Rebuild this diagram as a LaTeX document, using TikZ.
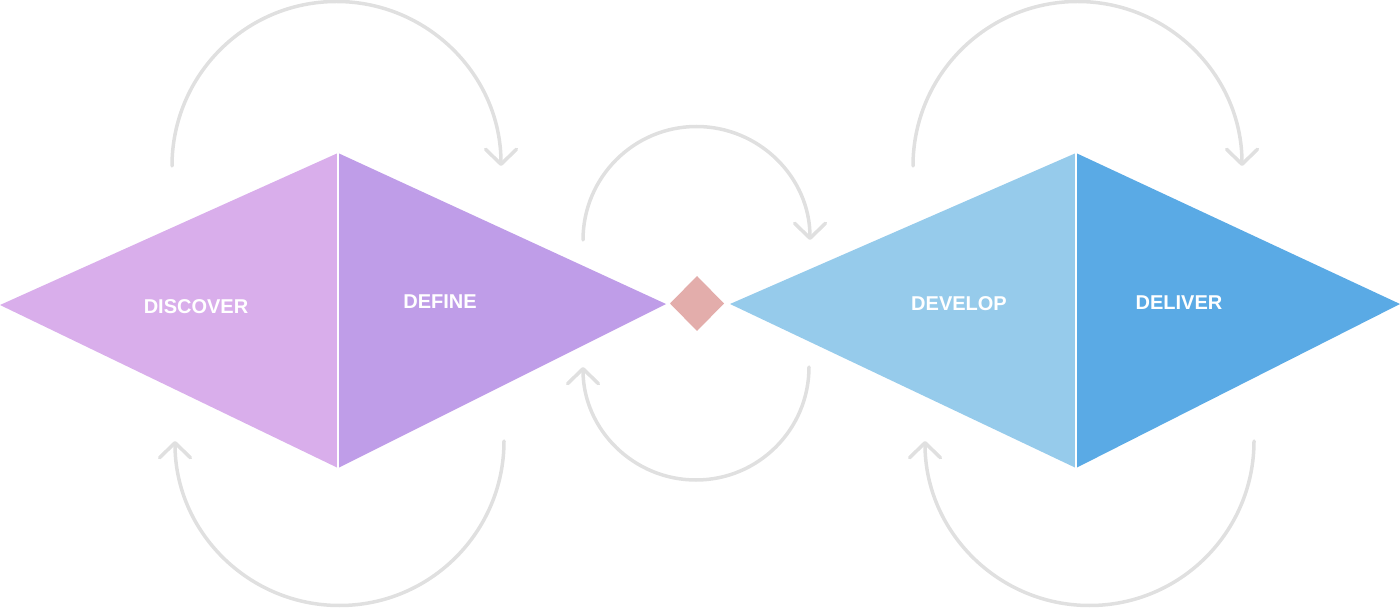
\documentclass[tikz,border=0pt]{standalone}
\usepackage{fontspec}
\setmainfont{Liberation Sans}
\usetikzlibrary{arrows.meta}
\definecolor{discoverc}{HTML}{D9AEEB}
\definecolor{definec}{HTML}{BF9DE8}
\definecolor{developc}{HTML}{96CBEB}
\definecolor{deliverc}{HTML}{5AAAE5}
\definecolor{centerc}{HTML}{E3ADAB}
\definecolor{arcc}{HTML}{E0E0E0}
\tikzset{
  loopline/.style={draw=arcc, line width=3.5pt, line cap=round,
    -{Straight Barb[length=15pt,width=31pt,line cap=round,line join=round]}},
  phase/.style={text=white, font=\fontsize{20}{20}\selectfont\bfseries, inner sep=0pt, anchor=center},
  divider/.style={draw=white, line width=2pt}
}
\begin{document}
\begin{tikzpicture}[x=1pt,y=-1pt]
\useasboundingbox (0,0) rectangle (1400,609);
% left diamond
\coordinate (lL) at (0,305);
\coordinate (lT) at (338,153);
\coordinate (lB) at (338,468);
\coordinate (lR) at (666,304);
\fill[discoverc] (lL) -- (lT) -- (lB) -- cycle;
\fill[definec] (lT) -- (lR) -- (lB) -- cycle;
\draw[divider] (lT) -- (lB);
% right diamond
\coordinate (rL) at (730,304);
\coordinate (rT) at (1076,153);
\coordinate (rB) at (1076,468);
\coordinate (rR) at (1400,304);
\fill[developc] (rL) -- (rT) -- (rB) -- cycle;
\fill[deliverc] (rT) -- (rR) -- (rB) -- cycle;
\draw[divider] (rT) -- (rB);
% center diamond
\coordinate (cL) at (670,303.5);
\coordinate (cT) at (697,276);
\coordinate (cR) at (724,303.5);
\coordinate (cB) at (697,331);
\fill[centerc] (cL) -- (cT) -- (cR) -- (cB) -- cycle;
% labels
\node[phase] (discover) at (196,307) {DISCOVER};
\node[phase] (define) at (440,302) {DEFINE};
\node[phase] (develop) at (959,304) {DEVELOP};
\node[phase] (deliver) at (1179,303) {DELIVER};
% loops
\coordinate (a1) at (172,166);
\draw[loopline] (a1) arc[start angle=180, end angle=360, radius=164.5];
\coordinate (a2) at (504,441);
\draw[loopline] (a2) arc[start angle=0, end angle=180, radius=164.5];
\coordinate (a3) at (583,240);
\draw[loopline] (a3) arc[start angle=180, end angle=360, radius=113.5];
\coordinate (a4) at (809,367);
\draw[loopline] (a4) arc[start angle=0, end angle=180, radius=113];
\coordinate (a5) at (913,166);
\draw[loopline] (a5) arc[start angle=180, end angle=360, radius=164.5];
\coordinate (a6) at (1254,441);
\draw[loopline] (a6) arc[start angle=0, end angle=180, radius=164.5];
\end{tikzpicture}
\end{document}
